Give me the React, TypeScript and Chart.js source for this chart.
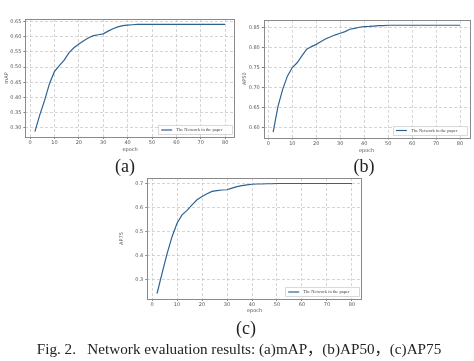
import React, { useEffect, useRef } from "react";
import { Chart, registerables } from "chart.js";

Chart.register(...registerables);

const EPOCHS = [2, 4, 6, 8, 10, 12, 14, 16, 18, 20, 22, 24, 26, 28, 30, 32, 34, 36, 38, 40, 42, 44, 46, 48, 50, 52, 54, 56, 58, 60, 62, 64, 66, 68, 70, 72, 74, 76, 78, 80];

const MAP_VALUES = [0.287, 0.342, 0.391, 0.446, 0.485, 0.505, 0.523, 0.548, 0.564, 0.576, 0.587, 0.597, 0.604, 0.607, 0.61, 0.619, 0.627, 0.633, 0.637, 0.639, 0.64, 0.641, 0.641, 0.641, 0.641, 0.641, 0.641, 0.641, 0.641, 0.641, 0.641, 0.641, 0.641, 0.641, 0.641, 0.641, 0.641, 0.641, 0.641, 0.641];

const AP50_VALUES = [0.588, 0.652, 0.696, 0.729, 0.75, 0.762, 0.779, 0.796, 0.8025, 0.808, 0.815, 0.822, 0.827, 0.832, 0.836, 0.84, 0.846, 0.848, 0.851, 0.8525, 0.853, 0.854, 0.855, 0.855, 0.856, 0.856, 0.856, 0.856, 0.856, 0.856, 0.856, 0.856, 0.856, 0.856, 0.856, 0.856, 0.856, 0.856, 0.856, 0.856];

const AP75_VALUES = [0.243, 0.327, 0.408, 0.48, 0.536, 0.571, 0.59, 0.613, 0.634, 0.648, 0.659, 0.669, 0.672, 0.675, 0.676, 0.683, 0.689, 0.693, 0.696, 0.699, 0.7, 0.7, 0.701, 0.701, 0.702, 0.702, 0.702, 0.702, 0.702, 0.702, 0.702, 0.702, 0.702, 0.702, 0.702, 0.702, 0.702, 0.702, 0.702, 0.702];

const X_TICKS = [0, 10, 20, 30, 40, 50, 60, 70, 80];
const MAP_TICKS = [0.3, 0.35, 0.4, 0.45, 0.5, 0.55, 0.6, 0.65];
const AP50_TICKS = [0.6, 0.65, 0.7, 0.75, 0.8, 0.85];
const AP75_TICKS = [0.3, 0.4, 0.5, 0.6, 0.7];

const SERIES_LABEL = "The Network in the paper";
const X_TITLE = "epoch";
const CAPTION = "Fig. 2.\u00a0\u00a0 Network evaluation results: (a)mAP\uff0c(b)AP50\uff0c(c)AP75";

const LINE_COLOR = "#2f6290";
const TICK_COLOR = "#555";
const GRID_COLOR = "rgba(185,185,185,0.6)";
const TICK_FONT = { family: "DejaVu Sans", size: 5 };

const spinePlugin = {
  id: "spines",
  afterDraw(chart: any) {
    const { ctx, chartArea } = chart;
    ctx.save();
    ctx.strokeStyle = "#8a8a8a";
    ctx.lineWidth = 1;
    ctx.strokeRect(
      Math.round(chartArea.left) + 0.5,
      Math.round(chartArea.top) + 0.5,
      Math.round(chartArea.right - chartArea.left),
      Math.round(chartArea.bottom - chartArea.top)
    );
    ctx.restore();
  },
};

const insetLegendPlugin = {
  id: "insetLegend",
  afterDraw(chart: any) {
    const { ctx, chartArea } = chart;
    const w = 74;
    const h = 9;
    const x = chartArea.right - 2.5 - w;
    const y = chartArea.bottom - 3 - h;
    ctx.save();
    ctx.fillStyle = "rgba(255,255,255,0.9)";
    ctx.strokeStyle = "#cfcfcf";
    ctx.lineWidth = 0.8;
    ctx.beginPath();
    ctx.rect(Math.round(x) + 0.5, Math.round(y) + 0.5, Math.round(w), h);
    ctx.fill();
    ctx.stroke();
    ctx.strokeStyle = LINE_COLOR;
    ctx.lineWidth = 1.2;
    ctx.beginPath();
    ctx.moveTo(x + 3, y + h / 2 + 0.5);
    ctx.lineTo(x + 14, y + h / 2 + 0.5);
    ctx.stroke();
    ctx.fillStyle = "#444";
    ctx.font = "4.5px 'Liberation Serif'";
    ctx.textBaseline = "middle";
    ctx.fillText(chart.data.datasets[0].label, x + 18, y + h / 2 + 0.5);
    ctx.restore();
  },
};

type PanelProps = {
  left: number;
  top: number;
  width: number;
  height: number;
  values: number[];
  yTicks: number[];
  yMin: number;
  yMax: number;
  xMin: number;
  xMax: number;
  decimals: number;
  yTitle: string;
  yAxisWidth: number;
  xAxisHeight: number;
  padTop: number;
  padRight: number;
  padLeft: number;
  padBottom: number;
};

function Panel(p: PanelProps) {
  const ref = useRef<HTMLCanvasElement | null>(null);
  useEffect(() => {
    if (!ref.current) return;
    const gridOpts: any = {
      color: GRID_COLOR,
      tickLength: 2,
      tickColor: "#666",
      tickBorderDash: [],
      tickWidth: 0.8,
    };
    const chart = new Chart(ref.current, {
      type: "line",
      data: {
        datasets: [
          {
            label: SERIES_LABEL,
            data: EPOCHS.map((e, i) => ({ x: e, y: p.values[i] })),
            borderColor: LINE_COLOR,
            borderWidth: 1.2,
            pointRadius: 0,
            tension: 0,
            fill: false,
          },
        ],
      },
      options: {
        animation: false,
        responsive: false,
        devicePixelRatio: 1,
        layout: { padding: { top: p.padTop, right: p.padRight, left: p.padLeft, bottom: p.padBottom } },
        plugins: { legend: { display: false }, tooltip: { enabled: false } },
        scales: {
          x: {
            type: "linear",
            min: p.xMin,
            max: p.xMax,
            afterBuildTicks: (s: any) => {
              s.ticks = X_TICKS.map((v) => ({ value: v }));
            },
            afterFit: (s: any) => {
              s.height = p.xAxisHeight;
            },
            ticks: {
              font: TICK_FONT,
              color: TICK_COLOR,
              padding: 1,
              maxRotation: 0,
              autoSkip: false,
              callback: (v: any) => String(v),
            },
            grid: gridOpts,
            border: { display: false, dash: [3, 2] },
            title: {
              display: true,
              text: X_TITLE,
              font: TICK_FONT,
              color: TICK_COLOR,
              padding: 0,
            },
          },
          y: {
            type: "linear",
            min: p.yMin,
            max: p.yMax,
            afterBuildTicks: (s: any) => {
              s.ticks = p.yTicks.map((v) => ({ value: v }));
            },
            afterFit: (s: any) => {
              s.width = p.yAxisWidth;
            },
            ticks: {
              font: TICK_FONT,
              color: TICK_COLOR,
              padding: 2,
              autoSkip: false,
              callback: (v: any) => Number(v).toFixed(p.decimals),
            },
            grid: gridOpts,
            border: { display: false, dash: [3, 2] },
            title: {
              display: true,
              text: p.yTitle,
              font: TICK_FONT,
              color: TICK_COLOR,
              padding: 0,
            },
          },
        },
      } as any,
      plugins: [spinePlugin, insetLegendPlugin],
    });
    return () => chart.destroy();
  }, []);
  return (
    <canvas
      ref={ref}
      width={p.width}
      height={p.height}
      style={{ position: "absolute", left: p.left, top: p.top, width: p.width, height: p.height }}
    />
  );
}

const capStyle: React.CSSProperties = {
  position: "absolute",
  fontFamily: "'Liberation Serif', 'Noto Sans CJK SC', serif",
  color: "#222",
  whiteSpace: "nowrap",
  lineHeight: 1,
};

export default function App() {
  return (
    <div style={{ position: "fixed", left: 0, top: 0, width: 474, height: 361, background: "#fff", overflow: "hidden" }}>
      <Panel
        left={0}
        top={0}
        width={240}
        height={160}
        values={MAP_VALUES}
        yTicks={MAP_TICKS}
        yMin={0.269}
        yMax={0.659}
        xMin={-1.9}
        xMax={83.9}
        decimals={2}
        yTitle="mAP"
        yAxisWidth={21.4}
        xAxisHeight={16}
        padTop={19}
        padRight={5.3}
        padLeft={4}
        padBottom={7}
      />
      <Panel
        left={240}
        top={0}
        width={234}
        height={160}
        values={AP50_VALUES}
        yTicks={AP50_TICKS}
        yMin={0.5746}
        yMax={0.8694}
        xMin={-1.9}
        xMax={83.9}
        decimals={2}
        yTitle="AP50"
        yAxisWidth={22.3}
        xAxisHeight={16}
        padTop={19.9}
        padRight={4.6}
        padLeft={1.5}
        padBottom={6.5}
      />
      <Panel
        left={110}
        top={170}
        width={260}
        height={150}
        values={AP75_VALUES}
        yTicks={AP75_TICKS}
        yMin={0.22}
        yMax={0.725}
        xMin={-1.9}
        xMax={83.9}
        decimals={1}
        yTitle="AP75"
        yAxisWidth={28.3}
        xAxisHeight={15}
        padTop={8}
        padRight={8.3}
        padLeft={9}
        padBottom={6}
      />
      <div style={{ ...capStyle, fontSize: 18, left: 125, top: 166, transform: "translate(-50%,-50%)" }}>(a)</div>
      <div style={{ ...capStyle, fontSize: 18, left: 364, top: 166, transform: "translate(-50%,-50%)" }}>(b)</div>
      <div style={{ ...capStyle, fontSize: 18, left: 246, top: 328, transform: "translate(-50%,-50%)" }}>(c)</div>
      <div style={{ ...capStyle, fontSize: 15.2, left: 239, top: 349, transform: "translate(-50%,-50%)" }}>{CAPTION}</div>
    </div>
  );
}
